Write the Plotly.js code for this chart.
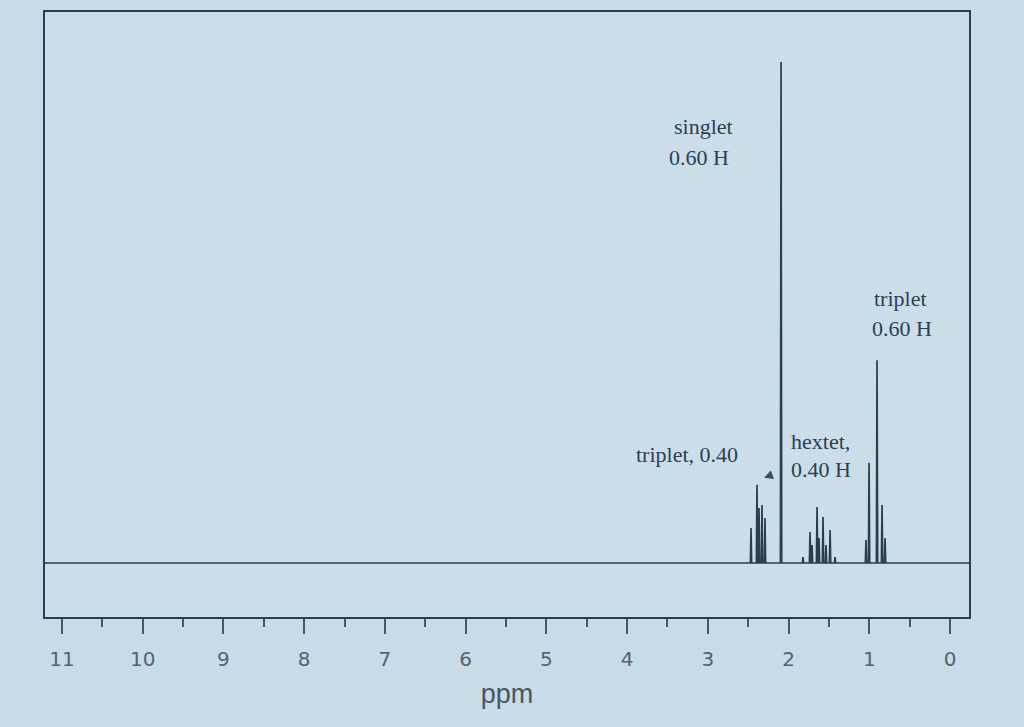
<!DOCTYPE html>
<html>
<head>
<meta charset="utf-8">
<script src="https://cdn.plot.ly/plotly-3.0.1.min.js"></script>
<style>
  html, body { margin: 0; padding: 0; background: #c7dbe8; }
  #chart { width: 1024px; height: 727px; }
</style>
</head>
<body>
<div id="chart"></div>
<script>
// Peak list (chemical shift in ppm, relative height; singlet = 100)
const peakPpm    = [2.465, 2.391, 2.366, 2.329, 2.292, 2.093, 1.821, 1.734, 1.709, 1.647, 1.623, 1.573, 1.536, 1.486, 1.424, 1.041, 1.003, 0.904, 0.842, 0.805];
const peakHeight = [7.0,   15.6,  11.0,  11.6,  9.0,   100,   1.2,   6.2,   3.6,   11.2,  5.0,   9.2,   3.6,   6.6,   1.2,   4.6,   20.0,  40.5,  11.6,  5.0];

const axisStart = 11.21, axisEnd = -0.235;
const tickValues = [11, 10, 9, 8, 7, 6, 5, 4, 3, 2, 1, 0];
const tickLabels = ["11", "10", "9", "8", "7", "6", "5", "4", "3", "2", "1", "0"];

const labelTexts = ["singlet", "0.60 H", "triplet, 0.40", "hextet,", "0.40 H", "triplet", "0.60 H"];
const labelPpm   = [2.663, 2.713, 2.601, 1.994, 1.994, 0.966, 0.991];
const labelY     = [87.2, 81.0, 21.6, 24.2, 18.6, 52.9, 46.9];
const labelSide  = ["right", "right", "right", "left", "left", "left", "left"];

// build stick spectrum trace from the peak list
const hw = 0.008;
const xs = [axisStart], ys = [0];
const order = peakPpm.map((p, i) => i).sort((a, b) => peakPpm[b] - peakPpm[a]);
order.forEach(i => {
  xs.push(peakPpm[i] + hw, peakPpm[i], peakPpm[i] - hw);
  ys.push(0, peakHeight[i], 0);
});
xs.push(axisEnd); ys.push(0);

const ink = '#2b3d4f';
const annotations = labelTexts.map((t, i) => ({
  x: labelPpm[i], y: labelY[i], xref: 'x', yref: 'y',
  text: t, showarrow: false, xanchor: labelSide[i], yanchor: 'middle',
  font: { family: 'Liberation Serif, Times New Roman, serif', size: 22, color: '#2c4053' }
}));
annotations.push({
  x: 2.304, y: 17.0, xref: 'x', yref: 'y', text: '', showarrow: true,
  ax: 8, ay: -3, arrowhead: 2, arrowsize: 0.9, arrowwidth: 2, arrowcolor: '#3c5063'
});

const data = [{
  x: xs, y: ys, type: 'scatter', mode: 'lines',
  line: { color: ink, width: 1.7 }, hoverinfo: 'skip'
}];

const layout = {
  width: 1024, height: 727,
  margin: { l: 45, r: 55, t: 12, b: 110 },
  paper_bgcolor: '#c7dbe8', plot_bgcolor: '#cadde9',
  showlegend: false,
  xaxis: {
    range: [axisStart, axisEnd], autorange: false,
    tickmode: 'array', tickvals: tickValues, ticktext: tickLabels,
    ticks: 'outside', ticklen: 15, tickwidth: 2, tickcolor: '#4a5866',
    minor: { dtick: 0.5, tick0: 0, ticks: 'outside', ticklen: 8, tickwidth: 2, tickcolor: '#4a5866' },
    ticklabelstandoff: 8,
    tickfont: { family: 'DejaVu Sans, sans-serif', size: 20, color: '#58626d' },
    showline: true, linecolor: ink, linewidth: 2, mirror: true,
    showgrid: false, zeroline: false,
    title: { text: 'ppm', standoff: 14, font: { family: 'Liberation Sans, Arial, sans-serif', size: 27, color: '#4a5561' } }
  },
  yaxis: {
    range: [-10.78, 110.0], autorange: false,
    showticklabels: false, ticks: '', showgrid: false, zeroline: false,
    showline: true, linecolor: ink, linewidth: 2, mirror: true
  },
  annotations: annotations
};

Plotly.newPlot('chart', data, layout, { displayModeBar: false, staticPlot: true });
</script>
</body>
</html>
